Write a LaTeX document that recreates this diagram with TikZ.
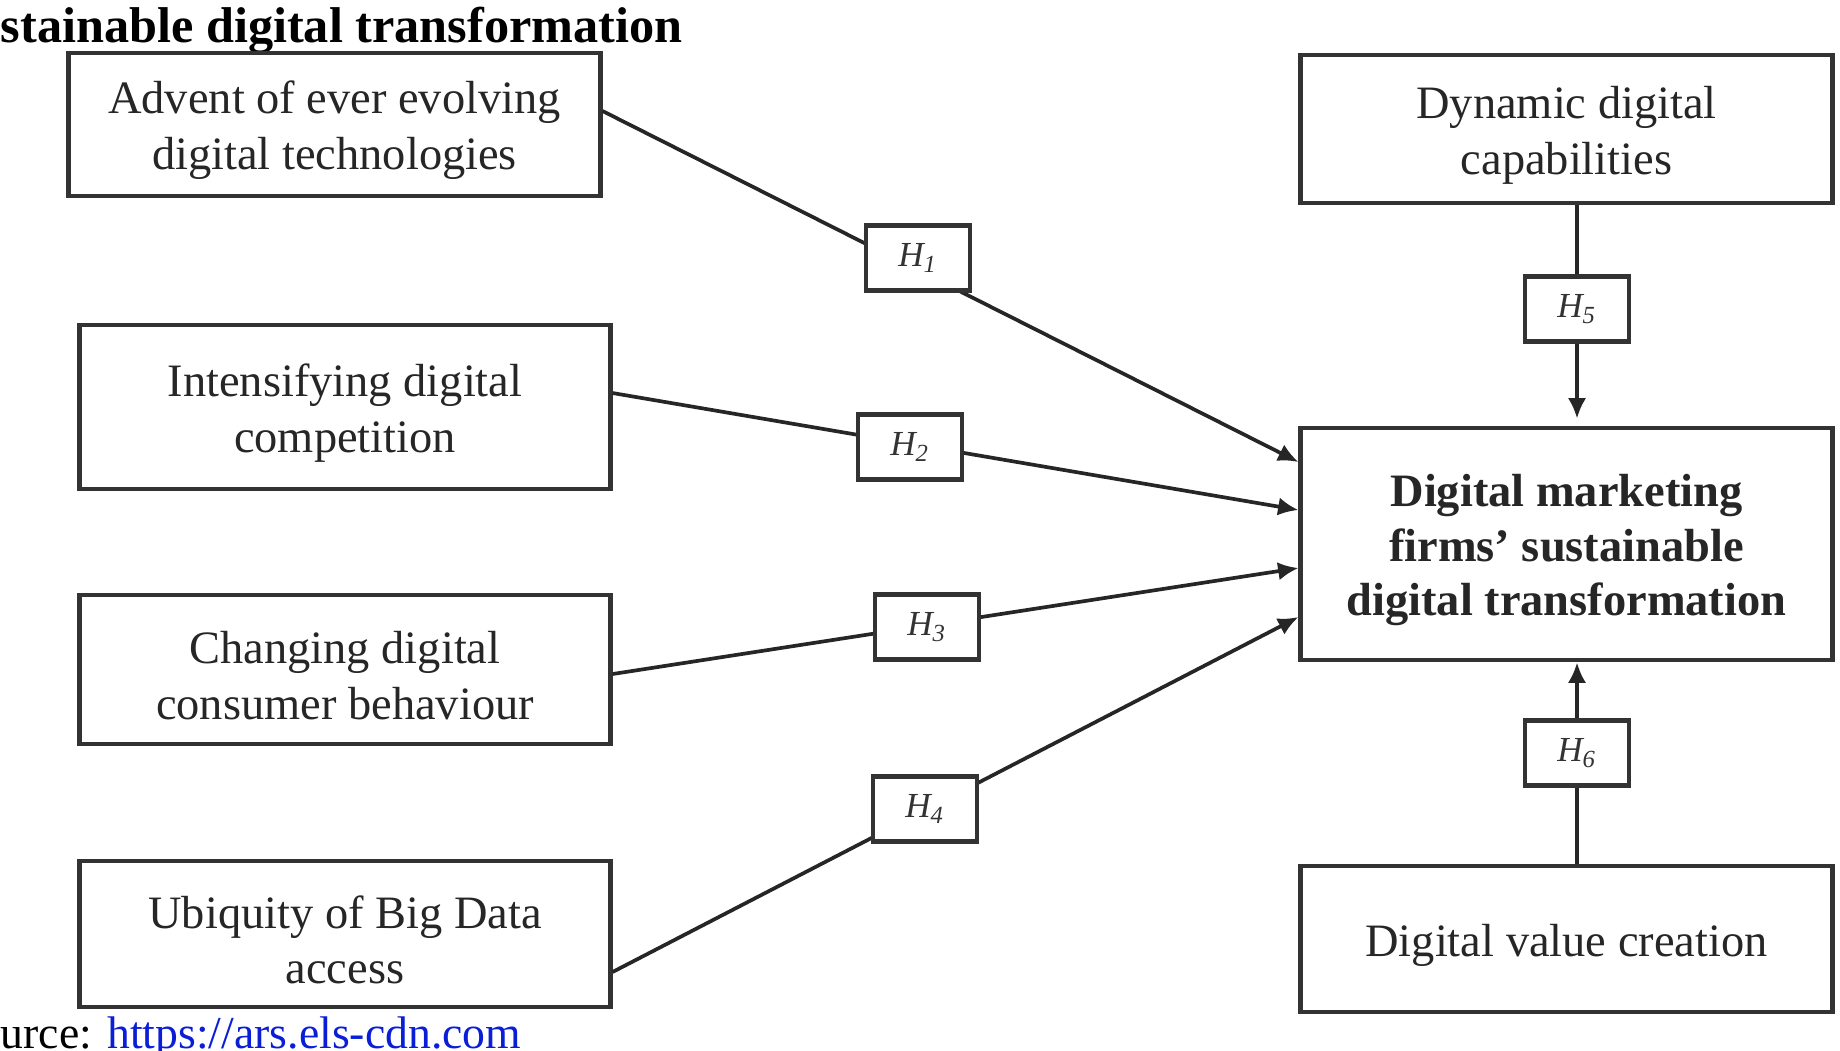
\documentclass[tikz,border=0pt]{standalone}
\usepackage{fontspec}
\setmainfont{Liberation Serif}
\usetikzlibrary{arrows.meta,calc}
\definecolor{linkblue}{RGB}{10,30,215}
\newcommand{\topstrut}{\rule{0pt}{12.6pt}}
\begin{document}
\begin{tikzpicture}[x=0.01cm,y=-0.01cm,
  box/.style={draw=black!80, line width=1.35pt, fill=white, inner sep=0pt, align=center, text=black!85, font=\fontsize{13.2}{15.9}\selectfont},
  hbox/.style={draw=black!80, line width=1.3pt, fill=white, inner sep=0pt, minimum width=1.04cm, minimum height=0.65cm, font=\fontsize{10}{12}\selectfont\itshape, text=black!80},
  conn/.style={draw=black!85, line width=1.05pt},
  arr/.style={conn, -{Latex[length=5.8pt,width=5.2pt]}}]
\useasboundingbox (0,0) rectangle (1840,1050);

\node[anchor=base west, inner sep=0pt, font=\fontsize{14.3}{17}\selectfont\bfseries] (title) at (0,42) {stainable digital transformation};
\node[anchor=base west, inner sep=0pt, font=\fontsize{13}{15}\selectfont] (src) at (0,1048) {urce: \textcolor{linkblue}{https://ars.els-cdn.com}};

\node[box, minimum width=5.31cm, minimum height=1.43cm] (a1) at (334.5,124.5) {\topstrut Advent of ever evolving\\digital technologies};
\node[box, minimum width=5.30cm, minimum height=1.64cm] (a2) at (345,407) {\topstrut Intensifying digital\\competition};
\node[box, minimum width=5.30cm, minimum height=1.49cm] (a3) at (345,669.5) {\topstrut Changing digital\\consumer behaviour};
\node[box, minimum width=5.30cm, minimum height=1.46cm] (a4) at (345,934) {\topstrut Ubiquity of Big Data\\access};
\node[box, minimum width=5.31cm, minimum height=1.48cm] (dyn) at (1566.5,129) {\topstrut Dynamic digital\\capabilities};
\node[box, minimum width=5.31cm, minimum height=2.32cm, font=\fontsize{13.2}{15.6}\selectfont\bfseries] (dmt) at (1566.5,544) {\topstrut Digital marketing\\firms’ sustainable\\digital transformation};
\node[box, minimum width=5.31cm, minimum height=1.46cm] (dvc) at (1566.5,939) {\topstrut Digital value creation};

\coordinate (s1) at ($(a1.east)+(0,-13.5)$);
\coordinate (s2) at ($(a2.east)+(0,-14)$);
\coordinate (s3) at ($(a3.east)+(0,4.5)$);
\coordinate (s4) at ($(a4.east)+(0,38)$);
\coordinate (t1) at ($(dmt.west)+(0,-82)$);
\coordinate (t2) at ($(dmt.west)+(0,-34)$);
\coordinate (t3) at ($(dmt.west)+(0,24)$);
\coordinate (t4) at ($(dmt.west)+(0,73)$);

\draw[arr] (s1) -- (t1);
\draw[arr] (s2) -- (t2);
\draw[arr] (s3) -- (t3);
\draw[arr] (s4) -- (t4);

\node[hbox] (h1) at (918,258) {H\textsubscript{1}};
\node[hbox] (h2) at (910,447) {H\textsubscript{2}};
\node[hbox] (h3) at (927,627) {H\textsubscript{3}};
\node[hbox] (h4) at (925,809) {H\textsubscript{4}};
\node[hbox] (h5) at (1577,309) {H\textsubscript{5}};
\node[hbox] (h6) at (1577,753) {H\textsubscript{6}};

\draw[conn] (dyn.south -| h5) -- (h5.north);
\draw[arr, shorten >=2pt] (h5.south) -- (h5.south |- dmt.north);
\draw[conn] (dvc.north -| h6) -- (h6.south);
\draw[arr] (h6.north) -- (h6.north |- dmt.south);
\end{tikzpicture}
\end{document}
